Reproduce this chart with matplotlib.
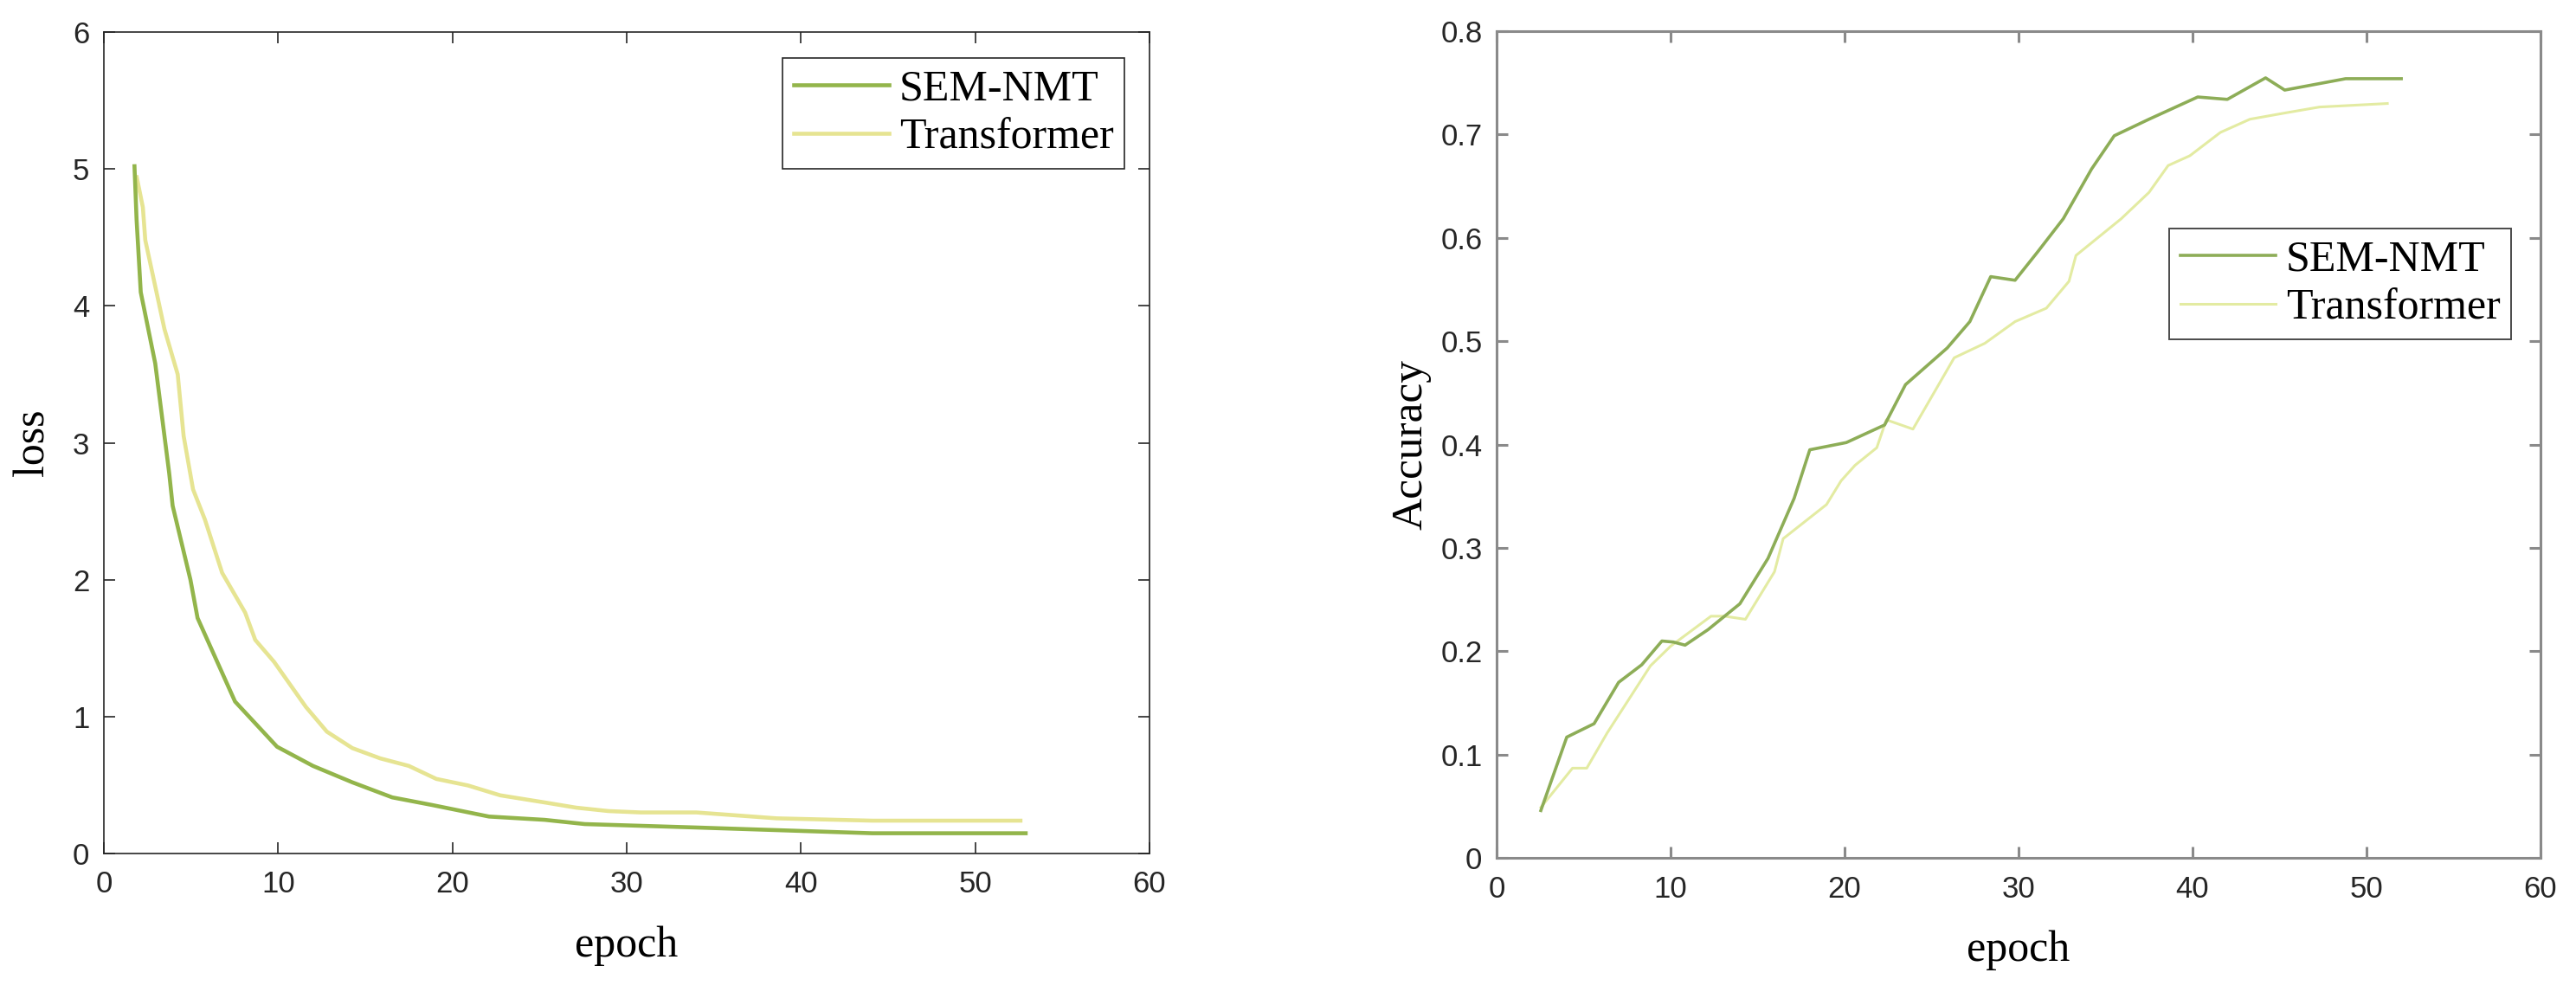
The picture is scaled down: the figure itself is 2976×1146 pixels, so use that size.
import numpy as np
import matplotlib
matplotlib.use('Agg')
import matplotlib.pyplot as plt

# loss curves (left panel)
loss_sem_epoch = [1.76, 1.88, 2.12, 2.95, 3.75, 3.95, 4.97, 5.38, 7.53, 9.94, 12.0,
                  14.26, 16.55, 18.85, 22.1, 25.3, 27.6, 34.0, 40.0, 44.1, 52.9]
loss_sem = [5.02, 4.63, 4.10, 3.58, 2.78, 2.54, 2.00, 1.72, 1.11, 0.78, 0.64,
            0.52, 0.41, 0.354, 0.27, 0.246, 0.215, 0.19, 0.165, 0.148, 0.148]

loss_trf_epoch = [1.89, 2.24, 2.38, 3.48, 4.24, 4.58, 5.12, 5.80, 6.79, 8.11, 8.69,
                  9.77, 11.6, 12.8, 14.26, 15.86, 17.5, 19.08, 20.9, 22.75, 25.3,
                  27.1, 28.96, 30.8, 34.0, 38.6, 44.1, 52.6]
loss_trf = [4.94, 4.72, 4.48, 3.83, 3.50, 3.05, 2.66, 2.44, 2.05, 1.76, 1.56,
            1.40, 1.07, 0.89, 0.77, 0.695, 0.64, 0.545, 0.497, 0.425, 0.373,
            0.335, 0.31, 0.30, 0.30, 0.257, 0.24, 0.24]

# accuracy curves (right panel)
acc_sem_epoch = [2.54, 4.03, 5.6, 7.01, 8.34, 9.5, 10.16, 10.83, 12.15, 13.98, 15.6,
                 17.1, 18.0, 20.1, 22.3, 23.5, 25.9, 27.2, 28.4, 29.8, 31.1, 32.57,
                 34.2, 35.5, 37.5, 40.3, 42.0, 44.2, 45.3, 48.8, 52.0]
acc_sem = [0.046, 0.117, 0.130, 0.170, 0.187, 0.210, 0.209, 0.206, 0.221, 0.246, 0.290,
           0.348, 0.395, 0.402, 0.419, 0.458, 0.4935, 0.519, 0.5625, 0.559, 0.5865, 0.6185,
           0.6667, 0.6988, 0.7148, 0.7363, 0.734, 0.7548, 0.743, 0.754, 0.754]

acc_trf_epoch = [2.54, 4.36, 5.18, 6.35, 8.84, 10.0, 12.32, 13.1, 14.3, 15.97, 16.47,
                 18.96, 19.8, 20.6, 21.85, 22.4, 23.93, 26.3, 28.06, 29.8, 31.6, 32.9,
                 33.3, 35.9, 37.5, 38.6, 39.85, 41.6, 43.3, 45.3, 47.3, 51.2]
acc_trf = [0.049, 0.087, 0.087, 0.121, 0.186, 0.205, 0.234, 0.234, 0.231, 0.277, 0.309,
           0.342, 0.365, 0.380, 0.397, 0.424, 0.415, 0.484, 0.498, 0.519, 0.532, 0.558,
           0.583, 0.6185, 0.644, 0.670, 0.6795, 0.702, 0.7148, 0.7208, 0.7266, 0.730]

labels = ["SEM-NMT", "Transformer"]
xticks = [0, 10, 20, 30, 40, 50, 60]
loss_yticks = [0, 1, 2, 3, 4, 5, 6]
acc_yticks = [0, 0.1, 0.2, 0.3, 0.4, 0.5, 0.6, 0.7, 0.8]

serif = 'Liberation Serif'
sans = 'Liberation Sans'

fig = plt.figure(figsize=(29.76, 11.46), dpi=100)
fig.patch.set_facecolor('white')

ax1 = fig.add_axes([0.0403, 0.1396, 0.4059, 0.8281])
ax2 = fig.add_axes([0.581, 0.135, 0.4052, 0.8336])


def style_axis(ax, spine_color, spine_w):
	for s in ax.spines.values():
		s.set_color(spine_color)
		s.set_linewidth(spine_w)
	ax.tick_params(axis='both', which='both', direction='in', top=True, right=True,
	               length=9.5, width=spine_w, color=spine_color, labelcolor='#262626',
	               labelsize=25)
	ax.tick_params(axis='x', pad=14)
	ax.tick_params(axis='y', pad=12)
	for lab in ax.get_xticklabels() + ax.get_yticklabels():
		lab.set_family(sans)


# left: loss
ax1.plot(loss_sem_epoch, loss_sem, color='#93B54B', lw=3.3, label=labels[0], zorder=3)
ax1.plot(loss_trf_epoch, loss_trf, color='#E6E492', lw=3.3, label=labels[1], zorder=2)
ax1.set_xlim(0, 60)
ax1.set_ylim(0, 6)
ax1.set_xticks(xticks)
ax1.set_yticks(loss_yticks)
style_axis(ax1, '#262626', 1.2)
ax1.set_xlabel("epoch", family=serif, fontsize=36, labelpad=22)
ax1.set_ylabel("loss", family=serif, fontsize=36, labelpad=16)
leg1 = ax1.legend(loc='upper right', bbox_to_anchor=(0.976, 0.968), borderaxespad=0,
                  prop={'family': serif, 'size': 36}, fancybox=False, framealpha=1,
                  edgecolor='#262626', handlelength=2.2, handletextpad=0.24,
                  labelspacing=0.2, borderpad=0.25)
leg1.get_frame().set_linewidth(1.2)

# right: accuracy
ax2.plot(acc_sem_epoch, acc_sem, color='#8DAD57', lw=2.6, label=labels[0], zorder=3)
ax2.plot(acc_trf_epoch, acc_trf, color='#E3EBA2', lw=2.2, label=labels[1], zorder=2)
ax2.set_xlim(0, 60)
ax2.set_ylim(0, 0.8)
ax2.set_xticks(xticks)
ax2.set_yticks(acc_yticks)
ax2.set_yticklabels(["0", "0.1", "0.2", "0.3", "0.4", "0.5", "0.6", "0.7", "0.8"])
style_axis(ax2, '#8A8A8A', 2.2)
ax2.set_xlabel("epoch", family=serif, fontsize=36, labelpad=22)
ax2.set_ylabel("Accuracy", family=serif, fontsize=37, labelpad=8)
leg2 = ax2.legend(loc='upper right', bbox_to_anchor=(0.9718, 0.7613), borderaxespad=0,
                  prop={'family': serif, 'size': 36}, fancybox=False, framealpha=1,
                  edgecolor='#4A4A4A', handlelength=2.2, handletextpad=0.24,
                  labelspacing=0.2, borderpad=0.25)
leg2.get_frame().set_linewidth(1.4)

fig.savefig("out.png", dpi=100, facecolor='white')
